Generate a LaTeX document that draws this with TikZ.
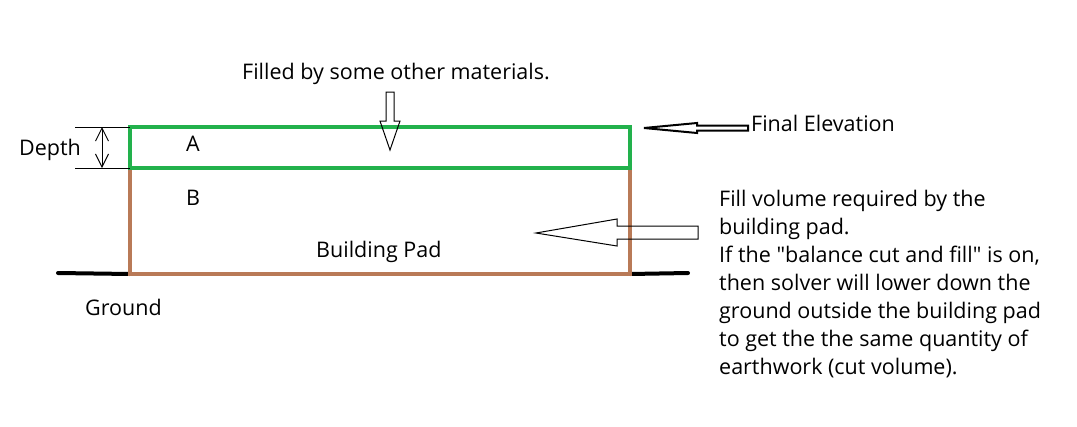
\documentclass[tikz,border=0pt]{standalone}
\usepackage{fontspec}
\setmainfont{Open Sans}
\usetikzlibrary{arrows.meta}

\definecolor{padgreen}{RGB}{34,177,76}
\definecolor{padbrown}{RGB}{185,122,87}

\tikzstyle{txt}=[inner sep=0pt,anchor=base west,font=\fontsize{21.5}{28}\selectfont]
\tikzstyle{note}=[inner sep=0pt,anchor=base west,align=left,font=\fontsize{21.5}{27.9}\selectfont]
\tikzstyle{fillline}=[draw=padgreen,line width=4pt]
\tikzstyle{padline}=[draw=padbrown,line width=4pt]
\tikzstyle{groundline}=[line width=4pt,line cap=round]
\tikzstyle{dimline}=[line width=1pt]
\tikzstyle{dimarrow}=[line width=1pt,{Straight Barb[length=13pt,width=13pt]}-{Straight Barb[length=13pt,width=13pt]}]
\tikzstyle{blockarrow}=[line width=1pt,line join=miter]

\begin{document}
\begin{tikzpicture}[x=1pt,y=-1pt]
		\useasboundingbox (0,0) rectangle (1077,426);
		% corners of the pad
		\coordinate (padtl) at (130,168);
		\coordinate (padbl) at (130,274);
		\coordinate (padbr) at (630,274);
		\coordinate (padtr) at (630,168);
		\coordinate (filltl) at (130,127);
		\coordinate (fillbr) at (630,168);
		\coordinate (gl) at (58,273);
		\coordinate (gr) at (688,273);
		\coordinate (dimtl) at (75,127);
		\coordinate (dimbl) at (75,168);
		\coordinate (depthtop) at (102,127);
		\coordinate (depthbot) at (102,168);

		% labels
		\node[txt] (filled) at (242,79) {Filled by some other materials.};
		\node[txt] (depth) at (19,155) {Depth};
		\node[txt] (a) at (186,151) {A};
		\node[txt] (b) at (186,205) {B};
		\node[txt] (pad) at (316,257) {Building Pad};
		\node[txt] (ground) at (85,315) {Ground};
		\node[txt] (final) at (751,131) {Final Elevation};
		% base of a multi-line node is its last line
		\node[note] (fillnote) at (719,374) {Fill volume required by the\\building pad.\\If the \textquotedbl balance cut and fill\textquotedbl\ is on,\\then solver will lower down the\\ground outside the building pad\\to get the the same quantity of\\earthwork (cut volume).};

		% ground and pad
		\draw[groundline] (gl) -- (padbl);
		\draw[groundline] (padbr) -- (gr);
		\draw[padline] (padtl) -- (padbl) -- (padbr) -- (padtr);
		\draw[fillline] (filltl) rectangle (fillbr);

		% depth
		\draw[dimline] (dimtl) -- (filltl);
		\draw[dimline] (dimbl) -- (padtl);
		\draw[dimarrow] (depthtop) -- (depthbot);

		% block arrows
		\draw[blockarrow] (386,92) -- (394,92) -- (394,121) -- (400,121) -- (390,150) -- (380,121) -- (386,121) -- cycle;
		\draw[blockarrow,line width=2pt] (644,128) -- (697,123) -- (697,125.5) -- (748,125.5) -- (748,130.5) -- (697,130.5) -- (697,133) -- cycle;
		\draw[blockarrow] (536,233) -- (617,219) -- (617,226) -- (698,226) -- (698,239) -- (617,239) -- (617,246) -- cycle;
\end{tikzpicture}
\end{document}
